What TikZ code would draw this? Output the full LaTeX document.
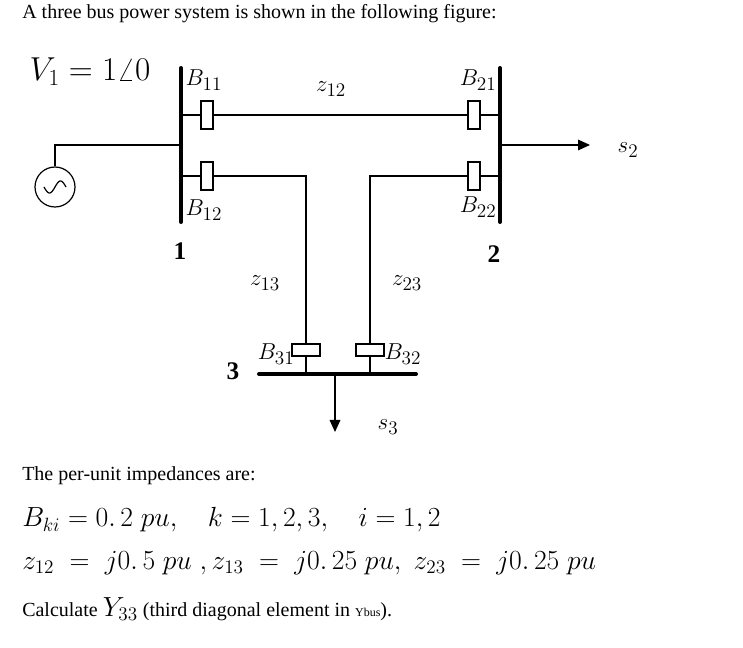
\documentclass[tikz,border=0pt]{standalone}
\usepackage{fontspec}
\setmainfont{Liberation Serif}
\usepackage{amsmath}
\usetikzlibrary{arrows.meta}
\begin{document}
\begin{tikzpicture}[x=0.75pt,y=-0.75pt,
  wire/.style={line width=0.9pt},
  busbar/.style={line width=3pt,line cap=round},
  brk/.style={draw,line width=0.9pt,fill=white,minimum width=9pt,minimum height=21pt,inner sep=0pt},
  brkh/.style={draw,line width=0.9pt,fill=white,minimum width=21pt,minimum height=9pt,inner sep=0pt},
  lbl/.style={inner sep=1pt,font=\fontsize{19}{19}\selectfont},
  txt/.style={anchor=west,inner sep=0pt,font=\fontsize{15}{17}\selectfont},
  dot/.style={circle,fill,inner sep=0pt,minimum size=3pt}]
\useasboundingbox (0,0) rectangle (743,648);
\node[txt] (title) at (22,14) {A three bus power system is shown in the following figure:};
% buses
\coordinate (b1t) at (181,68); \coordinate (b1b) at (181,222);
\coordinate (b2t) at (500,68); \coordinate (b2b) at (500,222);
\coordinate (b3l) at (259,374); \coordinate (b3r) at (416,374);
\draw[busbar] (b1t) -- (b1b);
\draw[busbar] (b2t) -- (b2b);
\draw[busbar] (b3l) -- (b3r);
% line 12
\coordinate (p1a) at (181,115); \coordinate (p2a) at (500,115);
\draw[wire] (p1a) -- (p2a);
\node[brk] (B11) at (207,115) {};
\node[brk] (B21) at (474,115) {};
% generator
\coordinate (g1) at (181,145); \coordinate (gc) at (55,145);
\node[draw,circle,line width=0.9pt,minimum size=30pt,inner sep=0pt] (gen) at (55,187) {};
\draw[wire] (g1) -- (gc) -- (gen.north);
\draw[line width=0.9pt,shift={(gen.center)}] plot[domain=-11:11,samples=40,smooth] (\x,{-6*sin(\x*180/11)});
% line 13
\coordinate (p1b) at (181,176); \coordinate (c13) at (306,176); \coordinate (p31) at (306,374);
\draw[wire] (p1b) -- (c13) -- (p31);
\node[brk] (B12) at (207,176) {};
\node[brkh] (B31) at (306,350) {};
% line 23
\coordinate (p2b) at (500,176); \coordinate (c23) at (370,176); \coordinate (p32) at (370,374);
\draw[wire] (p2b) -- (c23) -- (p32);
\node[brk] (B22) at (474,176) {};
\node[brkh] (B32) at (370,350) {};
% dots
\foreach \p in {p1a,g1,p1b,p31,p32} \node[dot] at (\p) {};
\coordinate (l3) at (335,374);
\node[dot] at (l3) {};
% loads
\coordinate (s2e) at (590,145); \coordinate (b2m) at (500,145);
\draw[wire,-{Triangle[length=9pt,width=8pt]}] (b2m) -- (s2e);
\coordinate (s3e) at (335,432);
\draw[wire,-{Triangle[length=9pt,width=8pt]}] (l3) -- (s3e);
% labels
\node[font=\fontsize{26}{26}\selectfont] (V1) at (90,72) {$V_1=1\angle 0$};
\node[lbl,anchor=west] at (184,80) {$B_{11}$};
\node[lbl,anchor=west] at (184,210) {$B_{12}$};
\node[lbl] at (331,89) {$z_{12}$};
\node[lbl,anchor=east] at (498,80) {$B_{21}$};
\node[lbl,anchor=east] at (498,207) {$B_{22}$};
\node[lbl] at (628,150) {$s_2$};
\node[font=\bfseries\fontsize{19}{19}\selectfont] at (180,251) {1};
\node[font=\bfseries\fontsize{19}{19}\selectfont] at (494,254) {2};
\node[font=\bfseries\fontsize{19}{19}\selectfont] at (233,371) {3};
\node[lbl] at (265,283) {$z_{13}$};
\node[lbl] at (407,283) {$z_{23}$};
\node[lbl,anchor=east] at (296,354) {$B_{31}$};
\node[lbl,anchor=west] at (383,354) {$B_{32}$};
\node[lbl] at (388,427) {$s_3$};
% text
\node[txt] (t1) at (22,476) {The per-unit impedances are:};
\node[txt,font=\fontsize{19.5}{20}\selectfont] (t2) at (22,520) {$B_{ki}=0.\,2\;pu,\quad k=1,2,3,\quad i=1,2$};
\node[txt,font=\fontsize{19.5}{20}\selectfont] (t3) at (22,563) {$z_{12}\;=\;j0.\,5\;pu\;,z_{13}\;=\;j0.\,25\;pu,\;z_{23}\;=\;j0.\,25\;pu$};
\node[txt] (t4) at (22,609) {Calculate {\fontsize{20}{20}\selectfont$Y_{33}$} (third diagonal element in {\small Ybus}).};
\end{tikzpicture}
\end{document}
